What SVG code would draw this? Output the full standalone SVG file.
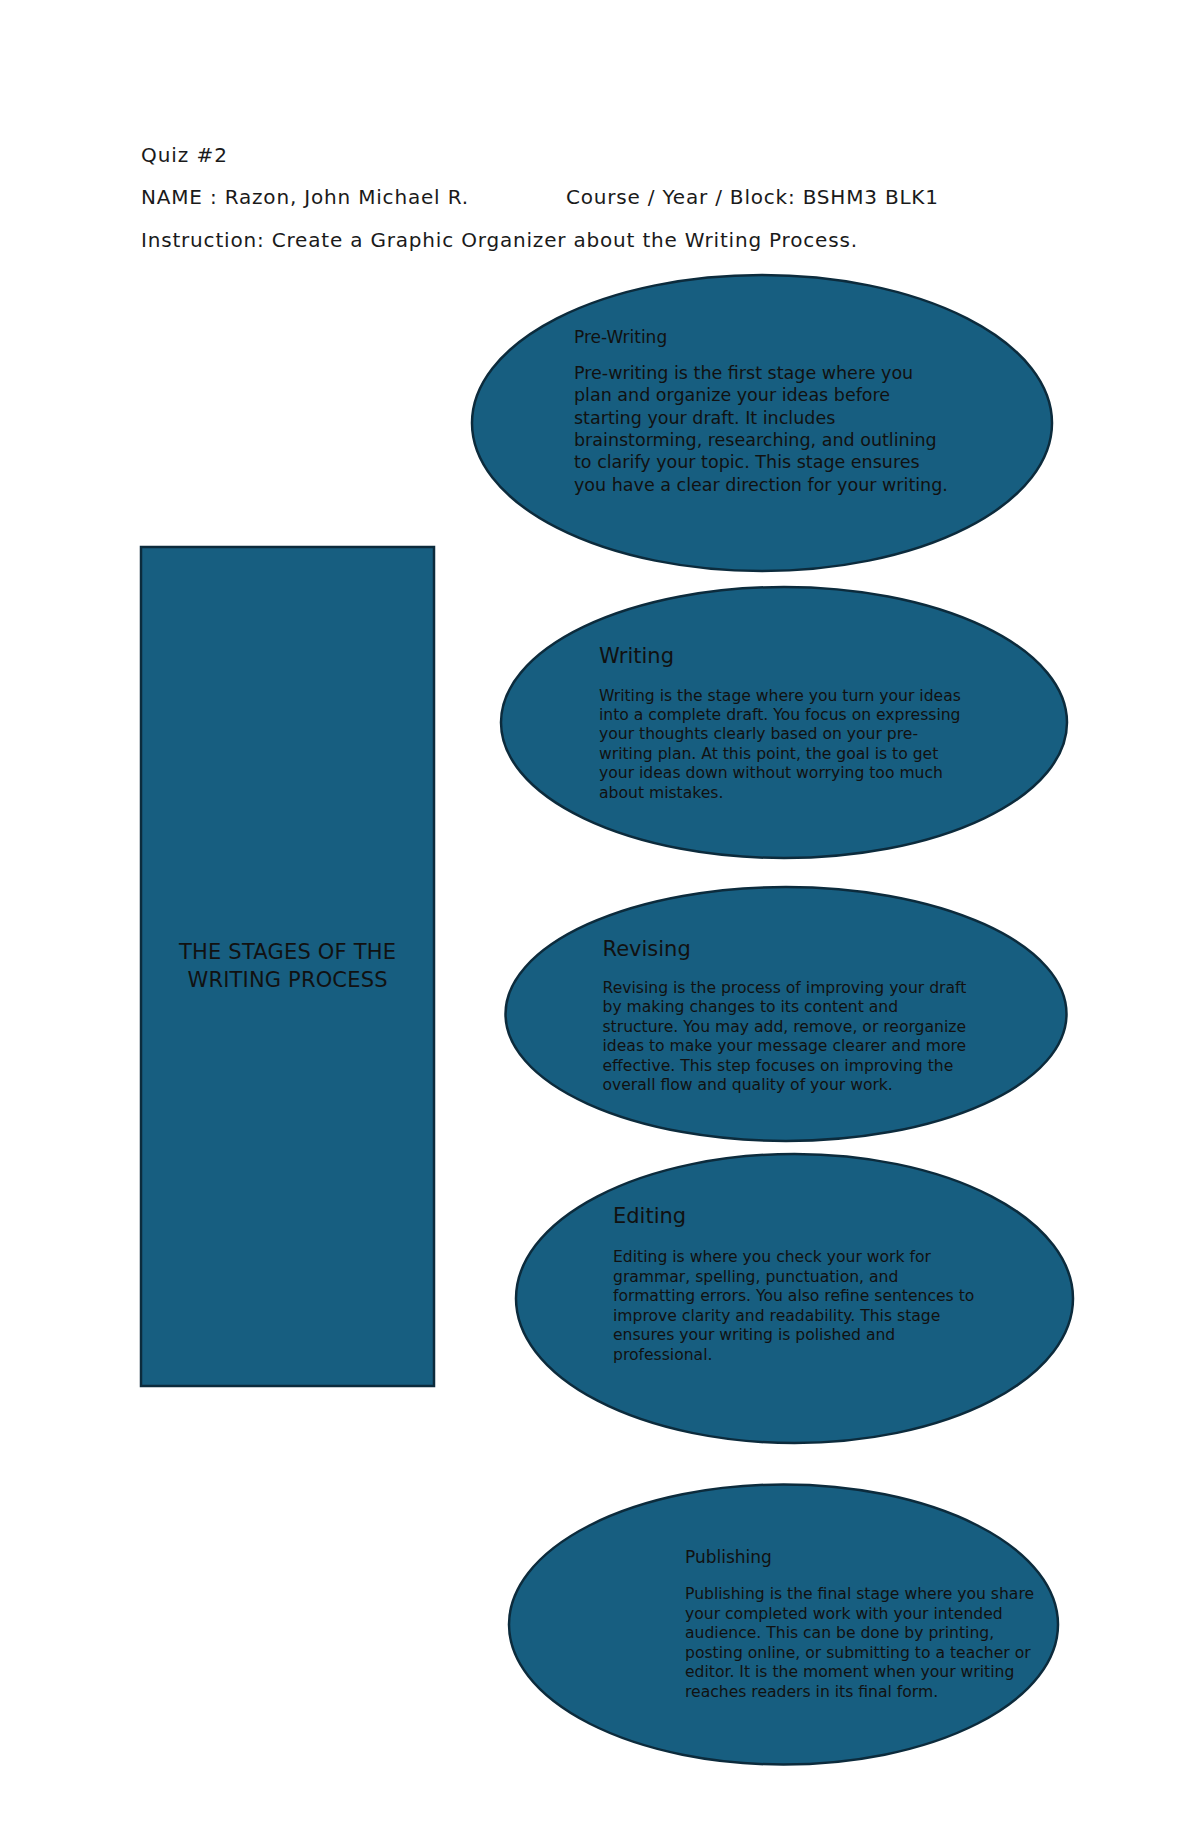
<svg xmlns="http://www.w3.org/2000/svg" width="1200" height="1835" viewBox="0 0 1200 1835">
<style>
  .bg { fill: #ffffff; }
  .shape { fill: #175E80; stroke: #0C2B3C; stroke-width: 2.5; }
  text { font-family: "DejaVu Sans", Verdana, sans-serif; fill: #111111; }
  .hdr { font-size: 20px; fill: #1a1a1a; }
  .title { font-size: 21px; }
  .small-title { font-size: 17px; }
  .body { font-size: 15.6px; }
  .body-lg { font-size: 17.5px; }
  .center { font-size: 21px; text-anchor: middle; }
</style>
<rect class="bg" x="0" y="0" width="1200" height="1835"/>

<g id="header">
  <text class="hdr" x="141" y="162" textLength="86" lengthAdjust="spacing">Quiz #2</text>
  <text class="hdr" x="141" y="204" textLength="327" lengthAdjust="spacing">NAME : Razon, John Michael R.</text>
  <text class="hdr" x="566" y="204" textLength="372" lengthAdjust="spacing">Course / Year / Block: BSHM3 BLK1</text>
  <text class="hdr" x="141" y="247" textLength="716" lengthAdjust="spacing">Instruction: Create a Graphic Organizer about the Writing Process.</text>
</g>

<g id="connectors"></g>

<g id="node-main">
  <rect class="shape" x="141" y="547" width="293" height="839"/>
  <text class="center" x="287.5" y="959" textLength="217" lengthAdjust="spacing">THE STAGES OF THE</text>
  <text class="center" x="287.5" y="987" textLength="200" lengthAdjust="spacing">WRITING PROCESS</text>
</g>

<g id="node-prewriting">
  <ellipse class="shape" cx="762" cy="423" rx="290" ry="148"/>
  <text class="small-title" x="574" y="343">Pre-Writing</text>
  <text class="body-lg">
    <tspan x="574" y="379">Pre-writing is the first stage where you</tspan>
    <tspan x="574" y="401.3">plan and organize your ideas before</tspan>
    <tspan x="574" y="423.6">starting your draft. It includes</tspan>
    <tspan x="574" y="445.9">brainstorming, researching, and outlining</tspan>
    <tspan x="574" y="468.2">to clarify your topic. This stage ensures</tspan>
    <tspan x="574" y="490.5">you have a clear direction for your writing.</tspan>
  </text>
</g>

<g id="node-writing">
  <ellipse class="shape" cx="784" cy="722.5" rx="283" ry="135.5"/>
  <text class="title" x="599" y="662.5">Writing</text>
  <text class="body">
    <tspan x="599" y="700.5">Writing is the stage where you turn your ideas</tspan>
    <tspan x="599" y="719.9">into a complete draft. You focus on expressing</tspan>
    <tspan x="599" y="739.3">your thoughts clearly based on your pre-</tspan>
    <tspan x="599" y="758.7">writing plan. At this point, the goal is to get</tspan>
    <tspan x="599" y="778.1">your ideas down without worrying too much</tspan>
    <tspan x="599" y="797.5">about mistakes.</tspan>
  </text>
</g>

<g id="node-revising">
  <ellipse class="shape" cx="786" cy="1014" rx="280.5" ry="127"/>
  <text class="title" x="602.5" y="955.5">Revising</text>
  <text class="body">
    <tspan x="602.5" y="992.5">Revising is the process of improving your draft</tspan>
    <tspan x="602.5" y="1012">by making changes to its content and</tspan>
    <tspan x="602.5" y="1031.5">structure. You may add, remove, or reorganize</tspan>
    <tspan x="602.5" y="1051">ideas to make your message clearer and more</tspan>
    <tspan x="602.5" y="1070.5">effective. This step focuses on improving the</tspan>
    <tspan x="602.5" y="1090">overall flow and quality of your work.</tspan>
  </text>
</g>

<g id="node-editing">
  <ellipse class="shape" cx="794.5" cy="1298.5" rx="278.5" ry="144.5"/>
  <text class="title" x="613" y="1223">Editing</text>
  <text class="body">
    <tspan x="613" y="1262">Editing is where you check your work for</tspan>
    <tspan x="613" y="1281.5">grammar, spelling, punctuation, and</tspan>
    <tspan x="613" y="1301">formatting errors. You also refine sentences to</tspan>
    <tspan x="613" y="1320.5">improve clarity and readability. This stage</tspan>
    <tspan x="613" y="1340">ensures your writing is polished and</tspan>
    <tspan x="613" y="1359.5">professional.</tspan>
  </text>
</g>

<g id="node-publishing">
  <ellipse class="shape" cx="783.5" cy="1624.5" rx="274.5" ry="140"/>
  <text class="small-title" x="685" y="1563">Publishing</text>
  <text class="body">
    <tspan x="685" y="1599">Publishing is the final stage where you share</tspan>
    <tspan x="685" y="1618.6">your completed work with your intended</tspan>
    <tspan x="685" y="1638.2">audience. This can be done by printing,</tspan>
    <tspan x="685" y="1657.8">posting online, or submitting to a teacher or</tspan>
    <tspan x="685" y="1677.4">editor. It is the moment when your writing</tspan>
    <tspan x="685" y="1697">reaches readers in its final form.</tspan>
  </text>
</g>
</svg>
